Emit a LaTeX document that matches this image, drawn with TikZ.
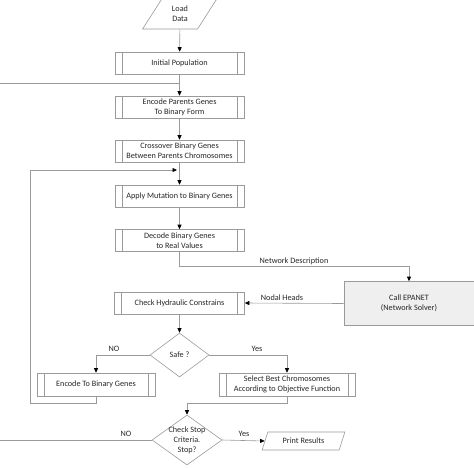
\documentclass[tikz,border=0pt]{standalone}
\usepackage{fontspec}
\setmainfont{Carlito}
\usetikzlibrary{shapes.geometric,arrows.meta}
\definecolor{linegray}{HTML}{9A9A9A}
\definecolor{textgray}{HTML}{262626}
\definecolor{solvergray}{HTML}{EFEFEF}
\begin{document}
\begin{tikzpicture}[x=1pt, y=-1pt,
		every node/.style={font=\fontsize{8.2}{10}\selectfont, text=textgray, align=center},
		conn/.style={draw=linegray, line width=0.6pt},
		arr/.style={conn, -{Triangle[length=4.5pt,width=4pt]}, arrows={[black]}},
		procbox/.style={draw=linegray, line width=0.6pt, rectangle, minimum width=129, minimum height=22, inner sep=0pt,
			path picture={
				\draw[linegray, line width=0.6pt]([xshift=7pt]path picture bounding box.north west) to ([xshift=7pt]path picture bounding box.south west);
				\draw[linegray, line width=0.6pt]([xshift=-7pt]path picture bounding box.north east) to ([xshift=-7pt]path picture bounding box.south east);
			}},
		iobox/.style={draw=linegray, line width=0.6pt, trapezium, trapezium left angle=60, trapezium right angle=120,
			trapezium stretches=true, inner sep=0pt},
		decision/.style={draw=linegray, line width=0.6pt, diamond, inner sep=0pt}]
			\path[use as bounding box](0, 0) rectangle (474, 467);
			\clip(0, 0) rectangle (474, 467);

			\node[iobox, minimum width=75, minimum height=31](load) at(180, 13.5){Load\\Data};
			\node[procbox](init) at(179.5, 63){Initial Population};
			\node[procbox](encp) at(179.5, 107){Encode Parents Genes\\To Binary Form};
			\node[procbox](cross) at(179.5, 151){Crossover Binary Genes\\Between Parents Chromosomes};
			\node[procbox](mut) at(179.5, 196){Apply Mutation to Binary Genes};
			\node[procbox](dec) at(179.5, 240.5){Decode Binary Genes\\to Real Values};
			\node[procbox, minimum width=130](hyd) at(179.5, 303){Check Hydraulic Constrains};
			\node[draw=linegray, line width=0.6pt, fill=solvergray, minimum width=130, minimum height=44](epanet) at(409, 303.5){Call EPANET\\(Network Solver)};
			\node[decision, minimum width=59, minimum height=44](safe) at(179.5, 355){Safe ?};
			\node[procbox, minimum width=118, minimum height=23](encb) at(96, 384.5){Encode To Binary Genes};
			\node[procbox, minimum width=136, minimum height=23](sel) at(287, 384.5){Select Best Chromosomes\\According to Objective Function};
			\node[decision, minimum width=70, minimum height=50,
				label={[font=\fontsize{8.2}{10}\selectfont, text=textgray, align=center]center:Check Stop\\Criteria.\\Stop?}](stop) at(187, 440){};
			\node[iobox, minimum width=83, minimum height=18](print) at(303.5, 441){Print Results};

			\node(ndesc) at(294, 261){Network Description};
			\node(nheads) at(282, 297.5){Nodal Heads};
			\node(safeno) at(114, 349){NO};
			\node(safeyes) at(257, 349){Yes};
			\node(stopno) at(126, 434){NO};
			\node(stopyes) at(244, 434){Yes};

			\coordinate(joinA) at(179.5, 83);
			\coordinate(joinB) at(177, 170);

			\draw[arr](load) to (init);
			\draw[arr](init) to (encp);
			\draw[arr](encp) to (cross);
			\draw[arr](cross) to (mut);
			\draw[arr](mut) to (dec);
			\draw[arr](dec.south) to (179.5, 266) -| (epanet.north);
			\draw[arr](epanet.west) to (hyd.east);
			\draw[arr](hyd) to (safe);
			\draw[arr](safe.west) -| (encb.north);
			\draw[arr](safe.east) -| (sel.north);
				\draw[arr](encb.south) to (96, 403) -| (30, 170) to (joinB);
				\draw[arr](sel.south) to (287, 403) -| (stop.north);
			\draw[arr](stop.east) to (print.west);
			\draw[conn](stop.west) to (-10, 440) |- (joinA);
		\end{tikzpicture}
\end{document}
